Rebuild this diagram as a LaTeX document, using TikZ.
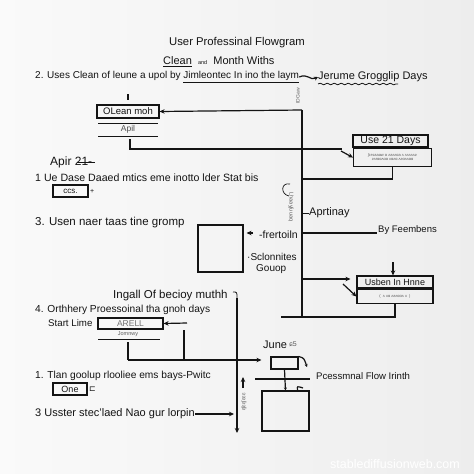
\documentclass[tikz,border=0pt]{standalone}
\usepackage{fontspec}
\setmainfont{Liberation Sans}
\newfontfamily\dejavu{DejaVu Sans}
\usetikzlibrary{arrows.meta,decorations.pathmorphing}
\definecolor{ink}{RGB}{20,20,20}
\newcommand{\fs}[1]{\fontsize{#1}{#1}\selectfont}
\begin{document}
\begin{tikzpicture}[x=1pt,y=-1pt,
  lbl/.style={inner sep=0pt, anchor=west, text=ink, font=\fs{10.5}},
  ln/.style={line width=1.2pt, draw=ink},
  ar/.style={ln, -{Stealth[length=5pt,width=4.5pt]}},
  bx/.style={draw=ink, line width=1.1pt, inner sep=0pt, text=ink},
  tiny/.style={inner sep=0pt, text=ink!70, font=\fs{4}}]
\shade[left color=white!96!gray, right color=white!86!gray] (0,0) rectangle (474,474);
\useasboundingbox (0,0) rectangle (474,474);

% title
\node[lbl, font=\fs{11.3}, anchor=center] (title) at (237,43) {User Professinal Flowgram};
\node[lbl, font=\fs{11}] (sub) at (163,62) {\underline{Clean}\ \ {\fs{5.5}and}\ \ Month Withs};
\node[lbl, font=\fs{10}] (l2) at (35,77) {2. Uses Clean of leune a upol by \underline{Jimleontec In ino the laym}};
\node[lbl, font=\fs{11}] (jer) at (318,77) {Jerume Grogglip Days};
\draw[ln, -{Stealth[length=4pt,width=4pt]}] (l2.east) .. controls (308,73) and (310,81) .. (jer.west);
\coordinate (wv1) at (318,84);
\coordinate (wv2) at (398,84);
\draw[line width=0.8pt, draw=ink, decorate, decoration={snake, amplitude=0.8pt, segment length=7pt}] (wv1) -- (wv2);
\node[tiny, rotate=90, font=\fs{5}] (idg) at (298,96) {IDGaw};

% main vertical
\coordinate (v1) at (302,110);
\coordinate (v2) at (302,317);
\draw[ln] (v1) -- (v2);

% top-left box
\node[bx, minimum width=62, minimum height=13, font=\fs{9.5}] (b1) at (128,111.5) {OLean moh};
\coordinate (tk1) at (128,94);
\coordinate (tk2) at (128,100);
\draw[line width=2pt, draw=ink] (tk1) -- (tk2);
\draw[ar] (v1) -- (b1.east);
\coordinate (u1a) at (98,123);
\coordinate (u1b) at (158,123);
\draw[line width=0.9pt, draw=ink] (u1a) -- (u1b);
\node[lbl, anchor=center, font=\fs{8.5}, text=ink!75] (apil) at (128,129.5) {Apil};
\coordinate (u2a) at (98,136);
\coordinate (u2b) at (158,136);
\draw[line width=0.9pt, draw=ink] (u2a) -- (u2b);
\coordinate (h1a) at (130,139);
\coordinate (h1b) at (130,149);
\coordinate (h1c) at (342,149);
\draw[ln] (h1a) -- (h1b) -- (h1c);

% Use 21 Days
\node[bx, minimum width=75, minimum height=12, font=\fs{10.5}] (u21) at (390.5,141) {Use 21 Days};
\node[bx, minimum width=78, minimum height=18, anchor=north west] (u21b) at (353,148) {};
\node[tiny, anchor=center, align=center] (scr1) at (u21b.center) {ʃcrsaaaw ɑ ʌƨʌʌɑa ʌ ʌʌʌʌʌƨ\\ƨʌrɑɑʌɑɑ ʌɑʌɑ ʌƨɑʌʌɑɑ};
\coordinate (m1) at (341,151);
\draw[ar] (m1) -- (u21b.west);
\coordinate (j1) at (302,179);
\draw[ln] (j1) -| (u21b.south);

% Apir 21 / line 1
\node[lbl, font=\fs{12}] (apr21) at (50,162) {Apir 21-};
\coordinate (st1) at (77,162);
\coordinate (st2) at (95,162);
\draw[line width=0.8pt, draw=ink] (st1) -- (st2);
\node[lbl, font=\fs{10.6}] (l1) at (35,178) {1 Ue Dase Daaed mtics eme inotto lder Stat bis};
\node[bx, minimum width=35, minimum height=12, font=\fs{8}] (ccs) at (70.5,191) {ccs.};
\node[lbl, font=\fs{7}] (pl1) at (90,191) {+};

\node[lbl, font=\fs{11.5}] (l3) at (35,223) {3. Usen naer taas tine gromp};

% big square and side labels
\node[bx, minimum width=45, minimum height=47] (sq) at (220.5,248.5) {};
\coordinate (ah1) at (253,233);
\draw[ar, shorten >=3pt] (ah1) -- (sq.east |- ah1);
\node[lbl] (fre) at (259,235) {-frertoiln};
\node[lbl, font=\fs{10}] (scl) at (247,257) {·Sclonnites};
\node[lbl, font=\fs{10}] (gou) at (256,269) {Gouop};
\node[tiny, rotate=-90, font=\fs{5.5}] (rot1) at (291,207) {Lhaayʃuuaq};
\coordinate (lp1) at (289,196);
\coordinate (lp2) at (290,184);
\draw[line width=0.7pt, draw=ink] (lp1) .. controls (280,194) and (281,182) .. (lp2);

\coordinate (j2) at (302,213);
\node[lbl, font=\fs{11}] (apr) at (309,213) {Aprtinay};
\draw[line width=0.8pt, draw=ink] (j2) -- (apr.west);
\coordinate (j3) at (302,233);
\node[lbl, font=\fs{9.5}] (bye) at (378,230) {By Feembens};
\coordinate (j3e) at (377,233);
\draw[ln] (j3) -- (j3e);

% Usben In Hnne
\node[bx, minimum width=76, minimum height=12, font=\fs{9}] (usb) at (395,282) {Usben In Hnne};
\node[bx, minimum width=76, minimum height=14, anchor=north] (usb2) at (395,289) {};
\node[tiny, anchor=center] (scr2) at (usb2.center) {(\ \ ʌ ʌɑ ʌƨʌɑɑʌ ʌ\ \ )};
\coordinate (da) at (393,262);
\draw[ar] (da) -- (da |- usb.north);
\coordinate (j4) at (302,279);
\draw[ar, shorten >=6pt] (j4) -- (j4 -| usb.west);
\coordinate (m2) at (343,284);
\draw[ar] (m2) -- (usb2.west);
\coordinate (j5) at (281,317);
\draw[ln] (j5) -| (usb2.south);

% lower left block
\node[lbl, font=\fs{11.5}] (ing) at (113,296) {Ingall Of becioy muthh};
\node[lbl, font=\fs{10.2}] (l4) at (35,310) {4. Orthhery Proessoinal tha gnoh days};
\node[lbl, font=\fs{9.7}] (stl) at (48,323) {Start Lime};
\node[bx, minimum width=65, minimum height=11, font=\fs{8.5}, text=ink!60] (are) at (130.5,323.5) {ARELL};
\node[tiny, font=\fs{5.5}] (jom) at (128,334) {Jomnwy};
\coordinate (u3a) at (98,339);
\coordinate (u3b) at (160,339);
\draw[line width=0.9pt, draw=ink] (u3a) -- (u3b);
\coordinate (a4) at (187,323);
\draw[ar] (a4) -- (are.east);
\coordinate (k1) at (184,330);
\coordinate (k2) at (184,360);
\coordinate (k3) at (128,342);
\coordinate (k4) at (128,360);
\draw[ln] (k1) -- (k2);
\draw[ln] (k3) -- (k4);

% long vertical at x=236
\coordinate (w1) at (237,298);
\coordinate (w2) at (237,433);
\draw[ar] (w1) -- (w2);
\coordinate (hk1) at (233,292);
\draw[line width=0.8pt, draw=ink] (hk1) .. controls (237,292) .. (w1);

% June block
\node[lbl, font=\fs{11}] (jun) at (263,345) {June};
\node[tiny, font=\fs{7}] (c5) at (293,344) {ɕ5};
\node[bx, minimum width=27, minimum height=12] (sr) at (284.5,363) {};
\draw[ar, shorten >=9pt] (k4) -- (k4 -| sr.west);
\coordinate (ca1) at (307,367);
\draw[ln, -{Stealth[length=3pt,width=3pt]}] (sr.north east) .. controls (304,358) .. (ca1);
\coordinate (p1) at (255,379);
\coordinate (p2) at (310,379);
\draw[ln] (p1) -- (p2);
\node[lbl, font=\fs{9.6}] (pcf) at (316,376) {Pcessmnal Flow Irinth};
\node[bx, minimum width=47, minimum height=40] (bb) at (285.5,411) {};
\draw[ln, -{Stealth[length=3pt,width=3pt]}] (sr.south) -- (bb.north);
\coordinate (hk2) at (303,388);
\draw[ln] (bb.north east) ++(-12,0) .. controls (297,386) .. (hk2);
\coordinate (ua1) at (243,388);
\coordinate (ua2) at (243,377);
\draw[ar] (ua1) -- (ua2);
\node[tiny, rotate=90, font=\fs{5.5}] (rot2) at (244,402) {ɛʃɛɛʃɛɛɛ};

% bottom left lines
\node[lbl, font=\fs{10.2}] (l1b) at (35,376) {1. Tlan goolup rlooliee ems bays-Pwitc};
\node[bx, minimum width=34, minimum height=12, font=\fs{9}] (one) at (70,389) {One};
\node[lbl, font=\dejavu\fs{8}] (br1) at (89,389) {⊏};
\node[lbl, font=\fs{11}] (l3b) at (35,414) {3 Usster stec'laed Nao gur lorpin};
\draw[ar, shorten >=3pt] (l3b.east) -- (w2 |- l3b.east);

% watermark
\node[inner sep=0pt, text=white, font=\fs{12.5}] (wm) at (395,464) {stablediffusionweb.com};
\end{tikzpicture}
\end{document}
